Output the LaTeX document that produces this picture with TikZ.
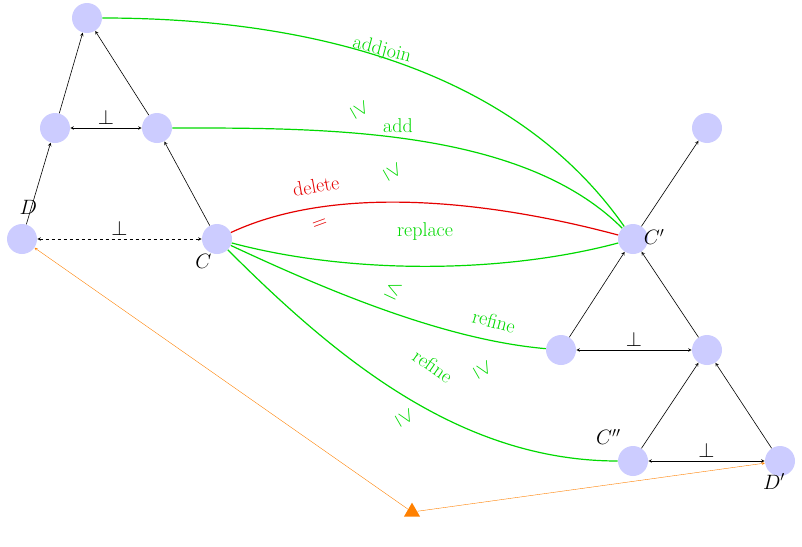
\documentclass[tikz,border=0pt]{standalone}
\usepackage{amssymb}
\usetikzlibrary{shapes.geometric}
\begin{document}
\begin{tikzpicture}[x=1pt,y=-1pt,>=stealth,semithick,
    dot/.style={circle,fill=blue!20,minimum size=30pt,inner sep=0pt},
    sim/.style={green!85!black,very thick},
    del/.style={red!90!black,very thick},
    tri/.style={->,orange,thin},
    lbl/.style={font=\fontsize{20}{24}\selectfont}]
  \useasboundingbox (0,0) rectangle (802,546);
  % left cluster
  \node[dot] (top) at (87,18) {};
  \node[dot] (ml) at (55,128) {};
  \node[dot] (mr) at (157,128) {};
  \node[dot] (D) at (22,239) {};
  \node[dot] (C) at (217,239) {};
  % right cluster
  \node[dot] (lone) at (707,128) {};
  \node[dot] (Cp) at (633,239) {};
  \node[dot] (rl) at (561,350) {};
  \node[dot] (rr) at (707,350) {};
  \node[dot] (Cpp) at (633,461) {};
  \node[dot] (Dp) at (780,461) {};
  \node[fill=orange,isosceles triangle,isosceles triangle apex angle=60,shape border rotate=90,inner sep=0pt,minimum size=14pt] (src) at (412,512) {};
  % names
  \node[lbl,anchor=south west] at ([xshift=-6pt,yshift=6pt]D.north) {$D$};
  \node[lbl,anchor=north east] at ([xshift=-2pt,yshift=4pt]C.south) {$C$};
  \node[lbl,anchor=west] at ([xshift=-8pt,yshift=2pt]Cp.east) {$C'$};
  \node[lbl,anchor=south east] at ([xshift=2pt,yshift=2pt]Cpp.north west) {$C''$};
  \node[lbl,anchor=north] at ([xshift=-6pt,yshift=6pt]Dp.south) {$D'$};
  % triangle edges
  \draw[->] (ml) -- (top);
  \draw[->] (mr) -- (top);
  \draw[<->] (ml) -- node[above,lbl] {$\perp$} (mr);
  \draw[->] (D) -- (ml);
  \draw[->] (C) -- (mr);
  \draw[<->,dashed] (D) -- node[above,lbl] {$\perp$} (C);
  \draw[->] (Cp) -- (lone);
  \draw[->] (rl) -- (Cp);
  \draw[->] (rr) -- (Cp);
  \draw[<->] (rl) -- node[above,lbl] {$\perp$} (rr);
  \draw[->] (Cpp) -- (rr);
  \draw[->] (Dp) -- (rr);
  \draw[<->] (Cpp) -- node[above,lbl] {$\perp$} (Dp);
  % orange
  \draw[tri] (src) -- (D);
  \draw[tri] (src) -- (Dp);
  % similarity curves
  \draw[sim] (top) to[out=0,in=125,looseness=0.9] (Cp);
  \draw[sim] (mr) to[out=0,in=135,looseness=0.8] (Cp);
  \draw[del] (C) to[out=25,in=165,looseness=0.8] (Cp);
  \draw[sim] (C) to[out=-15,in=-165,looseness=0.8] (Cp);
  \draw[sim] (C) to[out=-25,in=175,looseness=0.8] (rl);
  \draw[sim] (C) to[out=-45,in=180,looseness=0.9] (Cpp);
  % labels
  \node[lbl,green!85!black,rotate=-15] at (382,50) {addjoin};
  \node[lbl,green!85!black,rotate=-60] at (360,110) {$\geq$};
  \node[lbl,green!85!black] at (398,126) {add};
  \node[lbl,green!85!black,rotate=-60] at (393,172) {$\geq$};
  \node[lbl,red!90!black,rotate=10] at (316,186) {delete};
  \node[lbl,red!90!black,rotate=20] at (320,224) {$=$};
  \node[lbl,green!85!black] at (425,232) {replace};
  \node[lbl,green!85!black,rotate=-25] at (393,290) {$\leq$};
  \node[lbl,green!85!black,rotate=-15] at (494,321) {refine};
  \node[lbl,green!85!black,rotate=-35] at (433,366) {refine};
  \node[lbl,green!85!black,rotate=-60] at (483,370) {$\geq$};
  \node[lbl,green!85!black,rotate=-60] at (405,418) {$\geq$};
\end{tikzpicture}
\end{document}
